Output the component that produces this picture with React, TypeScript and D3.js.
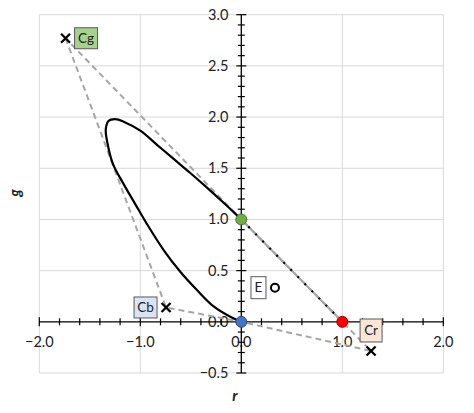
import React from "react";
import * as d3 from "d3";

const W = 474;
const H = 413;

// tick values
const xLabelTicks = [-2, -1, 0, 1, 2];
const xMinorTicks = d3.range(-20, 21, 2).map((v) => v / 10);
const yLabelTicks = [-0.5, 0, 0.5, 1, 1.5, 2, 2.5, 3];
const yMinorTicks = d3.range(-5, 31, 1).map((v) => v / 10);
const xGrid = [-2, -1, 1, 2];
const yGrid = [-0.5, 0.5, 1, 1.5, 2, 2.5, 3];

// primaries (r, g)
const primaryNames = ["R", "G", "B"];
const primaryR = [1, 0, 0];
const primaryG = [0, 1, 0];
const primaryFill = ["#ff0000", "#70ad47", "#4472c4"];

// chroma points
const crossNames = ["Cg", "Cb", "Cr"];
const crossR = [-1.74, -0.745, 1.285];
const crossG = [2.77, 0.14, -0.285];
const crossFill = ["#a9d18e", "#dae3f3", "#fbe5d6"];

// equal energy point
const eR = [1 / 3];
const eG = [1 / 3];

// spectral locus (r, g) from (0,0) via tip to (0,1)
const locusR = [0, -0.109, -0.274, -0.439, -0.604, -0.769, -0.934, -1.05, -1.165, -1.27, -1.325, -1.342, -1.315, -1.248, -1.165, -1.0, -0.835, -0.67, -0.505, -0.34, -0.175, -0.06, 0];
const locusG = [0, 0.049, 0.15, 0.31, 0.489, 0.701, 0.955, 1.15, 1.345, 1.54, 1.745, 1.875, 1.962, 1.98, 1.955, 1.867, 1.729, 1.591, 1.454, 1.311, 1.163, 1.057, 1];

// gamut polygon order: Cg -> Cb -> B -> Cr -> R -> G -> Cg
const hull: [number, number][] = [
  [crossR[0], crossG[0]],
  [crossR[1], crossG[1]],
  [primaryR[2], primaryG[2]],
  [crossR[2], crossG[2]],
  [primaryR[0], primaryG[0]],
  [primaryR[1], primaryG[1]],
  [crossR[0], crossG[0]],
];

const FONT = "Lato, 'Open Sans', sans-serif";

export default function App() {
  const x = d3.scaleLinear().domain([-2, 2]).range([39.3, 443.3]);
  const y = d3.scaleLinear().domain([-0.5, 3]).range([373, 14.7]);
  const x0 = x(0);
  const y0 = y(0);

  const locusPts: [number, number][] = locusR.map((r, i) => [x(r), y(locusG[i])]);
  const locusPath = d3.line().curve(d3.curveCatmullRom.alpha(0.5))(locusPts) || "";
  const hullPath = d3.line()(hull.map(([r, g]) => [x(r), y(g)])) || "";
  const rgLine = d3.line()([
    [x(primaryR[1]), y(primaryG[1])],
    [x(primaryR[0]), y(primaryG[0])],
  ]) || "";

  const fmt = d3.format(".1f");

  const labelBox = (name: string, cx: number, cy: number, w: number, h: number, fill: string, key: string) => (
    <g key={key}>
      <rect x={cx - w / 2} y={cy - h / 2} width={w} height={h} fill={fill} stroke="#595959" strokeWidth={1} />
      <text x={cx} y={cy + 4.7} textAnchor="middle" fontSize={13.5} fontFamily={FONT} fill="#222">
        {name}
      </text>
    </g>
  );

  // label placements relative to point: Cg right, Cb left, Cr above
  const crossLabel = crossNames.map((n, i) => {
    const px = x(crossR[i]);
    const py = y(crossG[i]);
    if (i === 0) return labelBox(n, px + 9 + 11.5, py, 23, 21, crossFill[i], n);
    if (i === 1) return labelBox(n, px - 9 - 11.5, py, 23, 21, crossFill[i], n);
    return labelBox(n, px, py - 9 - 11.5, 22, 23, crossFill[i], n);
  });

  return (
    <div style={{ position: "absolute", left: 0, top: 0 }}>
      <svg width={W} height={H} style={{ display: "block", background: "#fff" }}>
        {/* grid */}
        {xGrid.map((v) => (
          <line key={"gx" + v} x1={x(v)} x2={x(v)} y1={y(3)} y2={y(-0.5)} stroke="#d9d9d9" strokeWidth={1} />
        ))}
        {yGrid.map((v) => (
          <line key={"gy" + v} x1={x(-2)} x2={x(2)} y1={y(v)} y2={y(v)} stroke="#d9d9d9" strokeWidth={1} />
        ))}

        {/* tick labels */}
        {xLabelTicks.map((v) => (
          <text key={"xl" + v} x={x(v)} y={y0 + 25} textAnchor="middle" fontSize={14.5} fontFamily={FONT} fill="#222">
            {fmt(v)}
          </text>
        ))}
        {yLabelTicks.map((v) => (
          <text key={"yl" + v} x={x0 - 13} y={y(v) + 5} textAnchor="end" fontSize={14.5} fontFamily={FONT} fill="#222">
            {fmt(v)}
          </text>
        ))}

        {/* axes */}
        <line x1={x(-2)} x2={x(2)} y1={y0} y2={y0} stroke="#000" strokeWidth={1.3} />
        <line x1={x0} x2={x0} y1={y(3)} y2={y(-0.5)} stroke="#000" strokeWidth={1.3} />
        {xMinorTicks.map((v) => {
          const major = Math.abs(v - Math.round(v)) < 1e-9;
          const l = major ? 4.5 : 3.5;
          return <line key={"xt" + v} x1={x(v)} x2={x(v)} y1={y0 - l} y2={y0 + l} stroke="#000" strokeWidth={1.2} />;
        })}
        {yMinorTicks.map((v) => {
          const major = Math.abs(v * 2 - Math.round(v * 2)) < 1e-9;
          const l = major ? 5 : 3.5;
          return <line key={"yt" + v} x1={x0 - l} x2={x0 + l} y1={y(v)} y2={y(v)} stroke="#000" strokeWidth={1.2} />;
        })}

        {/* axis titles */}
        <text x={235} y={401} textAnchor="middle" fontSize={15} fontWeight="bold" fontStyle="italic" fontFamily={FONT} fill="#222">
          r
        </text>
        <text transform={`translate(20,193) rotate(-90)`} textAnchor="middle" fontSize={15} fontWeight="bold" fontStyle="italic" fontFamily={FONT} fill="#222">
          g
        </text>

        {/* gamut dashed lines */}
        <path d={hullPath} fill="none" stroke="#a6a6a6" strokeWidth={2} strokeDasharray="6 4" />
        <path d={rgLine} fill="none" stroke="#a6a6a6" strokeWidth={2.2} />
        <path d={rgLine} fill="none" stroke="#000" strokeWidth={2} strokeDasharray="2 8" />

        {/* spectral locus */}
        <path d={locusPath} fill="none" stroke="#000" strokeWidth={2.2} />

        {/* crosses */}
        {crossNames.map((n, i) => {
          const px = x(crossR[i]);
          const py = y(crossG[i]);
          const s = 4.5;
          return (
            <g key={"c" + n} stroke="#000" strokeWidth={2.3}>
              <line x1={px - s} y1={py - s} x2={px + s} y2={py + s} />
              <line x1={px - s} y1={py + s} x2={px + s} y2={py - s} />
            </g>
          );
        })}

        {/* primaries */}
        {primaryNames.map((n, i) => (
          <circle
            key={"p" + n}
            cx={x(primaryR[i])}
            cy={y(primaryG[i])}
            r={5.5}
            fill={primaryFill[i]}
            stroke={d3.color(primaryFill[i])!.darker(1.2).formatHex()}
            strokeWidth={1}
          />
        ))}

        {/* E point */}
        {eR.map((r, i) => (
          <circle key={"e" + i} cx={x(r)} cy={y(eG[i])} r={4} fill="none" stroke="#000" strokeWidth={2} />
        ))}

        {/* labels */}
        {crossLabel}
        {labelBox("E", x(eR[0]) - 9 - 7.5, y(eG[0]), 15, 22, "#fff", "E")}
      </svg>
    </div>
  );
}
